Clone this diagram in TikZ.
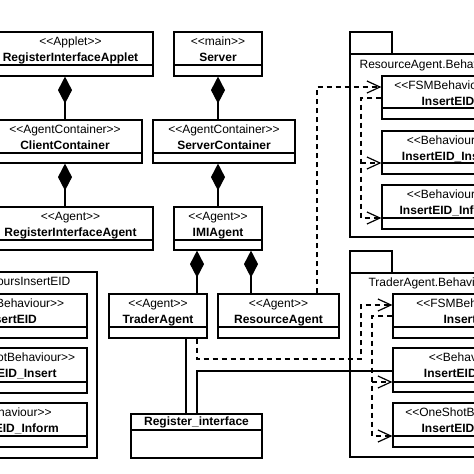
\documentclass[tikz,border=0pt]{standalone}
\usepackage{fontspec}
\newfontfamily\umlfont{Liberation Sans}
\usetikzlibrary{arrows.meta,fit}
\newcommand\umlcls[8]{% name,x1,y1,x2,y2,divider y,stereotype,title
  \node[clsbox, fit={(#2,#3) (#4,#5)}] (#1) {};
  \draw (#2,#6) -- (#4,#6);
  \node[stereo] (#1s) at ([yshift=-14pt]#1.north) {#7};
  \node[ttl] (#1t) at ([yshift=-30.5pt]#1.north) {#8};
}
\begin{document}
\begin{tikzpicture}[x=1pt,y=-1pt,line width=1.2pt,
  clsbox/.style={draw,inner sep=0pt,line width=1.2pt},
  stereo/.style={inner sep=0pt,anchor=base,font=\umlfont\fontsize{12}{14}\selectfont},
  ttl/.style={inner sep=0pt,anchor=base,font=\umlfont\bfseries\fontsize{12}{14}\selectfont},
  pkgname/.style={inner sep=0pt,anchor=base west,font=\umlfont\fontsize{12}{14}\selectfont},
  pkg/.style={draw,inner sep=0pt,line width=1.2pt},
  comp/.style={{Diamond[length=27pt,width=14pt]}-},
  dep/.style={dash pattern=on 5pt off 4pt,-{Straight Barb[length=13pt,width=12pt,line width=1.2pt]}},
  dline/.style={dash pattern=on 5pt off 4pt}]
\useasboundingbox (0,0) rectangle (474,474);
\clip (0,0) rectangle (474,474);
\fill[white] (0,0) rectangle (474,474);

% left column
\umlcls{app}{-12}{32}{153}{76}{65}{<<Applet>>}{RegisterInterfaceApplet}
\umlcls{cc}{-12}{120}{142}{163}{153}{<<AgentContainer>>}{ClientContainer}
\umlcls{ria}{-12}{207}{153}{250}{240}{<<Agent>>}{RegisterInterfaceAgent}
% middle column
\umlcls{srv}{174}{32}{262}{76}{65}{<<main>>}{Server}
\umlcls{sc}{153}{120}{295}{163}{153}{<<AgentContainer>>}{ServerContainer}
\umlcls{imi}{174}{207}{262}{250}{240}{<<Agent>>}{IMIAgent}
\umlcls{ta}{109}{294}{207}{338}{327}{<<Agent>>}{TraderAgent}
\umlcls{ra}{218}{294}{339}{338}{327}{<<Agent>>}{ResourceAgent}
\node[clsbox, fit={(131,414) (262,458)}] (ri) {};
\draw (131,430) -- (262,430);
\node[ttl] (rit) at ([yshift=-12.5pt]ri.north) {Register\_interface};

% left package
\node[pkg, fit={(-90,272) (97,458)}] (lp) {};
\node[pkgname, anchor=base east] (lpn) at (71,285) {RegisterInterfaceAgent.BehavioursInsertEID};
\umlcls{la}{-66}{294}{87}{338}{327}{<<FSMBehaviour>>}{InsertEID}
\umlcls{lb}{-66}{348}{87}{393}{382}{<<OneShotBehaviour>>}{InsertEID\_Insert}
\umlcls{lc}{-66}{403}{87}{447}{436}{<<Behaviour>>}{InsertEID\_Inform}

% resource package
\node[pkg, fit={(350,32) (392,54)}] (rptab) {};
\node[pkg, fit={(350,54) (560,237)}] (rp) {};
\node[pkgname] (rpn) at (359,68) {ResourceAgent.BehavioursInsertEID};
\umlcls{rf}{382}{76}{514}{119}{108}{<<FSMBehaviour>>}{InsertEID}
\umlcls{rb}{382}{131}{514}{174}{163}{<<Behaviour>>}{InsertEID\_Insert}
\umlcls{rc}{382}{185}{514}{229}{218}{<<Behaviour>>}{InsertEID\_Inform}

% trader package
\node[pkg, fit={(350,251) (392,273)}] (tptab) {};
\node[pkg, fit={(350,273) (560,457)}] (tp) {};
\node[pkgname] (tpn) at (368,286) {TraderAgent.BehavioursInsertEID};
\umlcls{tf}{393}{294}{547}{338}{327}{<<FSMBehaviour>>}{InsertEID}
\umlcls{tb}{393}{348}{547}{392}{382}{<<Behaviour>>}{InsertEID\_Insert}
\umlcls{tc}{393}{403}{547}{447}{436}{<<OneShotBehaviour>>}{InsertEID\_Inform}

% compositions
\draw[comp] (app.south -| 65,0) -- (cc.north -| 65,0);
\draw[comp] (cc.south -| 65,0) -- (ria.north -| 65,0);
\draw[comp] (srv.south -| 218,0) -- (sc.north -| 218,0);
\draw[comp] (sc.south -| 218,0) -- (imi.north -| 218,0);
\draw[comp] (imi.south -| 197,0) -- (ta.north -| 197,0);
\draw[comp] (imi.south -| 251,0) -- (ra.north -| 251,0);

% associations
\draw (ta.south -| 186,0) -- (ri.north -| 186,0);
\draw (ri.north -| 197,0) |- (tb.west |- 0,371);

% dependencies
\draw[dep] (ra.north -| 317,0) |- (rf.west |- 0,87);
\draw[dep] (rf.west |- 0,98) -| (361,218) -- (rc.west |- 0,218);
\draw[dep] (361,163) -- (rb.west |- 0,163);
\draw[dep] (ta.south -| 197,0) |- (361,359) |- (tf.west |- 0,305);
\draw[dep] (tf.west |- 0,316) -| (372,436) -- (tc.west |- 0,436);
\draw[dep] (372,382) -- (tb.west |- 0,382);
\end{tikzpicture}
\end{document}
